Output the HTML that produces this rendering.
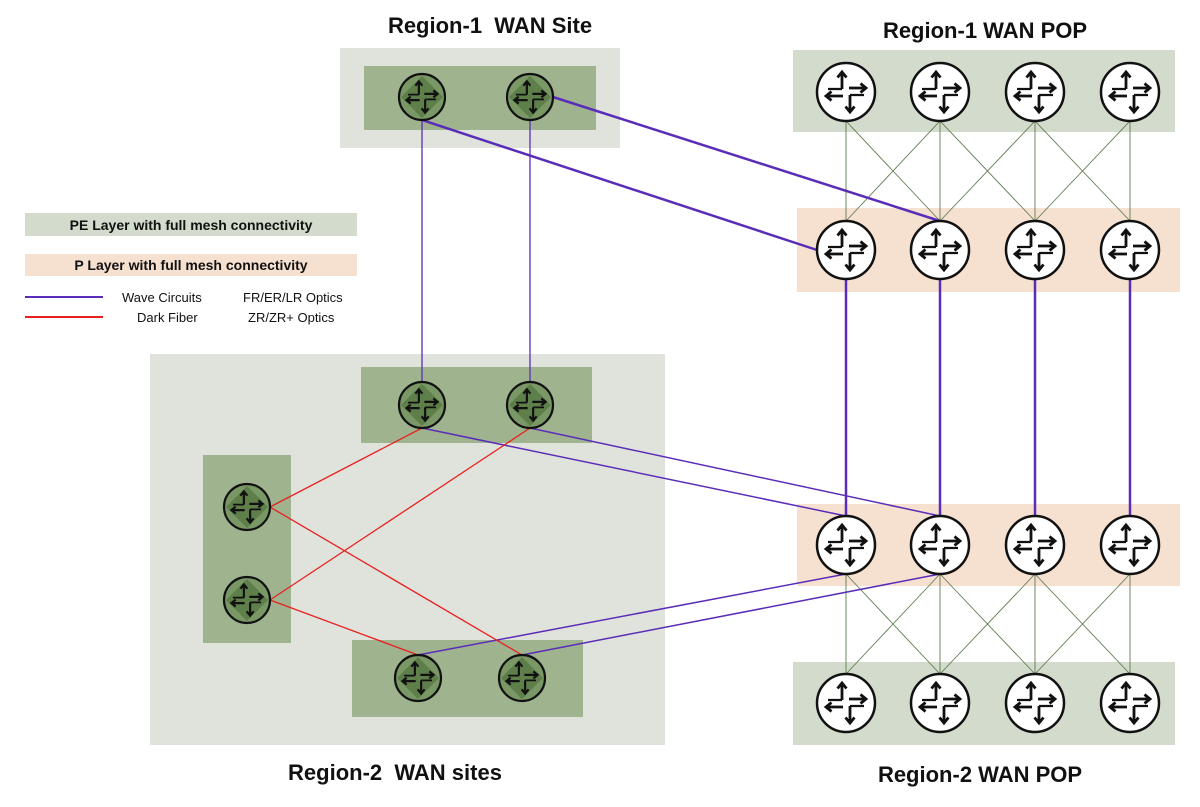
<!DOCTYPE html>
<html><head><meta charset="utf-8"><style>
body{margin:0;background:#fff;width:1200px;height:802px;overflow:hidden;font-family:"Liberation Sans",sans-serif}
</style></head><body>
<svg width="1200" height="802" viewBox="0 0 1200 802" xmlns="http://www.w3.org/2000/svg">
<defs>
<g id="ar" fill="none" stroke="#111" stroke-width="2.8">
<path d="M-4,-3 V-20 M-8.5,-14.5 L-4,-20 L0.5,-14.5"/>
<path d="M3,-4 H20 M14.5,-8.5 L20,-4 L14.5,0.5"/>
<path d="M-3,4 H-20 M-14.5,-0.5 L-20,4 L-14.5,8.5"/>
<path d="M4,3 V20 M-0.5,14.5 L4,20 L8.5,14.5"/>
<path d="M-4,-3 H-18 M4,3 H18" stroke-width="2.2"/>
</g>
<g id="big"><circle r="29" fill="#fff" stroke="#111" stroke-width="2.5"/><use href="#ar"/></g>
<g id="sm"><circle r="23" fill="#7a9866" stroke="#111" stroke-width="2.2"/><path d="M0,-21 L21,0 L0,21 L-21,0Z" fill="#5e7f4a"/><g transform="scale(0.78)"><use href="#ar"/></g></g>
</defs>
<rect x="340" y="48" width="280" height="100" fill="#e0e3dc"/>
<rect x="364" y="66" width="232" height="64" fill="#9fb38f"/>
<rect x="793" y="50" width="382" height="82" fill="#d2dbcc"/>
<rect x="797" y="208" width="383" height="84" fill="#f6e0d0"/>
<rect x="797" y="504" width="383" height="82" fill="#f6e0d0"/>
<rect x="793" y="662" width="382" height="83" fill="#d2dbcc"/>
<rect x="150" y="354" width="515" height="391" fill="#e0e3dc"/>
<rect x="361" y="367" width="231" height="76" fill="#9fb38f"/>
<rect x="203" y="455" width="88" height="188" fill="#9fb38f"/>
<rect x="352" y="640" width="231" height="77" fill="#9fb38f"/>
<rect x="25" y="213" width="332" height="23" fill="#d2dbcc"/>
<rect x="25" y="254" width="332" height="22" fill="#f6e0d0"/>
<text x="191" y="230" text-anchor="middle" font-size="14" font-weight="bold" fill="#111">PE Layer with full mesh connectivity</text>
<text x="191" y="270" text-anchor="middle" font-size="14" font-weight="bold" fill="#111">P Layer with full mesh connectivity</text>
<line x1="25" y1="297" x2="103" y2="297" stroke="#5a2db8" stroke-width="2"/>
<line x1="25" y1="317" x2="103" y2="317" stroke="#e82020" stroke-width="2"/>
<text x="122" y="302" font-size="13" fill="#111">Wave Circuits</text>
<text x="137" y="322" font-size="13" fill="#111">Dark Fiber</text>
<text x="243" y="302" font-size="13" fill="#111">FR/ER/LR Optics</text>
<text x="248" y="322" font-size="13" fill="#111">ZR/ZR+ Optics</text>
<g font-weight="bold" font-size="22" fill="#111" text-anchor="middle">
<text x="490" y="33">Region-1&#160; WAN Site</text>
<text x="985" y="38">Region-1 WAN POP</text>
<text x="395" y="780">Region-2&#160; WAN sites</text>
<text x="980" y="782">Region-2 WAN POP</text>
</g>
<g stroke="#5f7d4f" stroke-width="0.9">
<path d="M846,121 V221 M940,121 V221 M1035,121 V221 M1130,121 V221 M846,121 L940,221 M940,121 L846,221 M940,121 L1035,221 M1035,121 L940,221 M1035,121 L1130,221 M1130,121 L1035,221"/>
<path d="M846,574 V674 M940,574 V674 M1035,574 V674 M1130,574 V674 M846,574 L940,674 M940,574 L846,674 M940,574 L1035,674 M1035,574 L940,674 M1035,574 L1130,674 M1130,574 L1035,674"/>
</g>
<g stroke="#5a2db8" fill="none">
<path d="M422,120 V382 M530,120 V382" stroke-width="1.3"/>
<path d="M422,120 L817,250 M553,97 L940,221" stroke-width="2.5"/>
<path d="M846,279 V516 M940,279 V516 M1035,279 V516 M1130,279 V516" stroke-width="2.5"/>
<path d="M422,428 L846,516 M530,428 L940,516 M418,655 L846,574 M522,655 L940,574" stroke-width="1.5"/>
</g>
<g stroke="#e82020" stroke-width="1.3" fill="none">
<path d="M422,428 L270,507 M530,428 L270,600 M270,507 L522,655 M270,600 L418,655"/>
</g>
<use href="#sm" x="422" y="97"/><use href="#sm" x="530" y="97"/>
<use href="#sm" x="422" y="405"/><use href="#sm" x="530" y="405"/>
<use href="#sm" x="247" y="507"/><use href="#sm" x="247" y="600"/>
<use href="#sm" x="418" y="678"/><use href="#sm" x="522" y="678"/>
<use href="#big" x="846" y="92"/><use href="#big" x="940" y="92"/><use href="#big" x="1035" y="92"/><use href="#big" x="1130" y="92"/>
<use href="#big" x="846" y="250"/><use href="#big" x="940" y="250"/><use href="#big" x="1035" y="250"/><use href="#big" x="1130" y="250"/>
<use href="#big" x="846" y="545"/><use href="#big" x="940" y="545"/><use href="#big" x="1035" y="545"/><use href="#big" x="1130" y="545"/>
<use href="#big" x="846" y="703"/><use href="#big" x="940" y="703"/><use href="#big" x="1035" y="703"/><use href="#big" x="1130" y="703"/>
</svg>
</body></html>
